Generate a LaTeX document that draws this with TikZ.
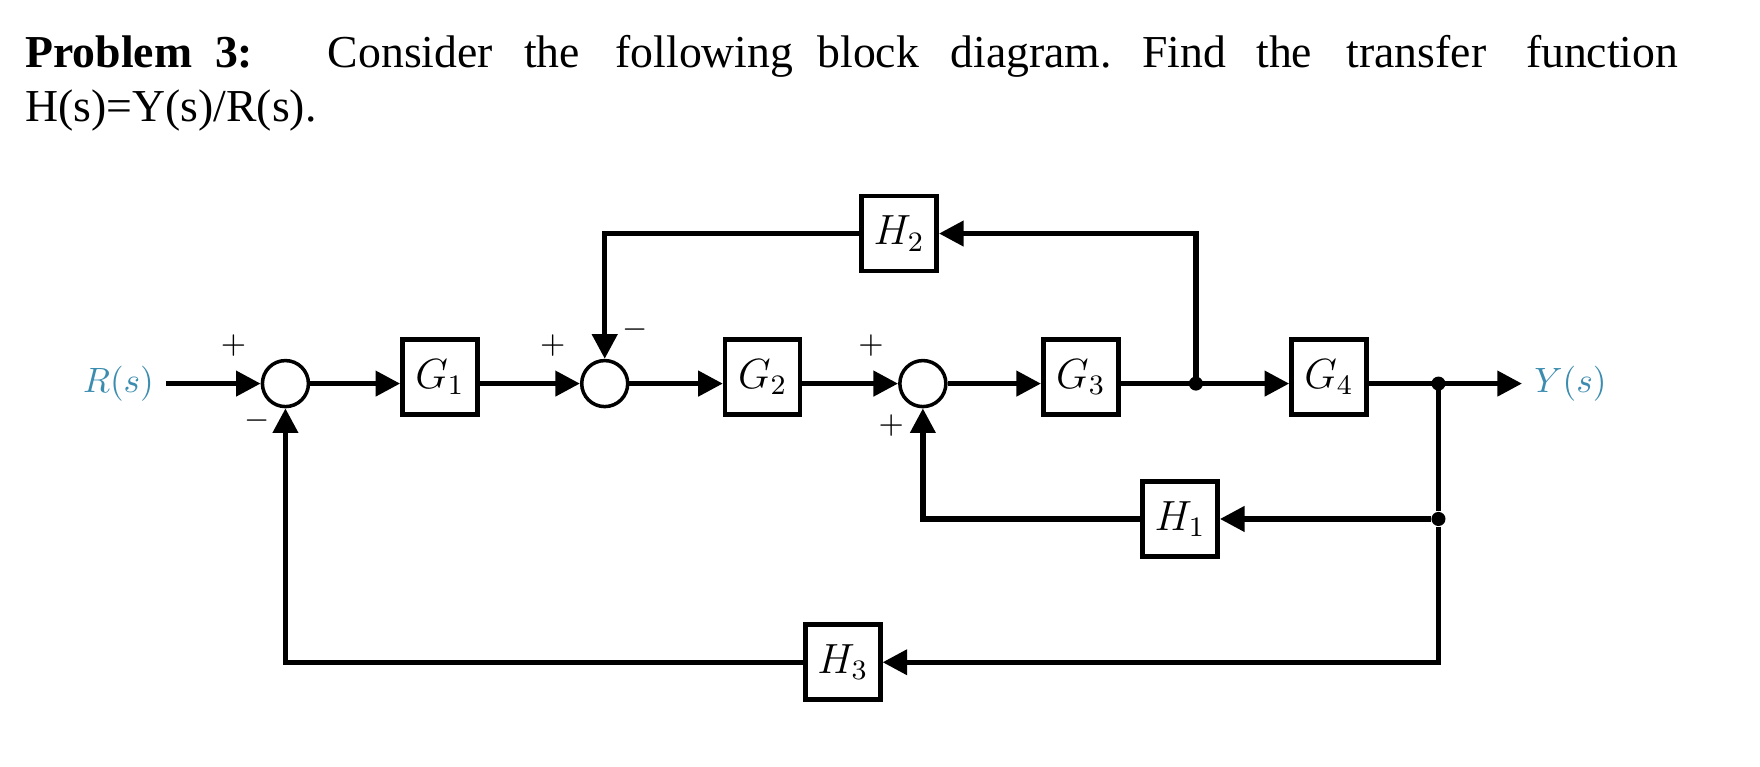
\documentclass[tikz,border=0pt]{standalone}
\usepackage{fontspec}
\setmainfont{Liberation Serif}
\usetikzlibrary{arrows.meta}
\definecolor{teal1}{RGB}{60,140,175}
\begin{document}
\begin{tikzpicture}[x=0.01128cm,y=-0.01128cm,
  blk/.style={draw,line width=1.3pt,minimum width=0.75cm,minimum height=0.75cm,inner sep=0pt,font=\large},
  sum/.style={draw,circle,line width=1pt,minimum size=0.46cm,inner sep=0pt},
  sig/.style={line width=1.5pt,-{Triangle[length=7pt,width=7pt]}},
  ln/.style={line width=1.5pt},
  dot/.style={circle,fill,inner sep=0pt,minimum size=4pt},
  lab/.style={font=\small},
  tt/.style={anchor=base west,font=\fontsize{13}{16}\selectfont,inner sep=0pt}]
\useasboundingbox (0,0) rectangle (1560,679);
% title
\node[tt] (t1) at (22,60) {\textbf{Problem\ \ 3:}};
\node[tt] (t2) at (290,60) {Consider};
\node[tt] (t3) at (464,60) {the};
\node[tt] (t4) at (545,60) {following};
\node[tt] (t5) at (724,60) {block};
\node[tt] (t6) at (842,60) {diagram.};
\node[tt] (t7) at (1012,60) {Find};
\node[tt] (t8) at (1113,60) {the};
\node[tt] (t9) at (1193,60) {transfer};
\node[tt] (t10) at (1352,60) {function};
\node[tt] (t11) at (22,108) {H(s)=Y(s)/R(s).};
% nodes
\node[text=teal1] (R) at (105,340) {$R(s)$};
\node[sum] (s1) at (253,340) {};
\node[blk] (G1) at (390,334) {$G_1$};
\node[sum] (s2) at (536,340) {};
\node[blk] (G2) at (676,334) {$G_2$};
\node[sum] (s3) at (818,340) {};
\node[blk] (G3) at (958,334) {$G_3$};
\coordinate (j1) at (1060,340);
\node[blk] (G4) at (1178,334) {$G_4$};
\coordinate (j2) at (1275,340);
\node[text=teal1] (Y) at (1392,340) {$Y(s)$};
\node[blk] (H2) at (797,207) {$H_2$};
\node[blk] (H1) at (1046,460) {$H_1$};
\node[blk] (H3) at (747,587) {$H_3$};
\node[dot] at (j1) {};
\node[dot] at (j2) {};
\node[dot] (j3) at (1275,460) {};
% forward
\draw[sig] (R) -- (s1);
\draw[sig] (s1) -- (G1.west|-s1);
\draw[sig] (G1.east|-s1) -- (s2);
\draw[sig] (s2) -- (G2.west|-s2);
\draw[sig] (G2.east|-s2) -- (s3);
\draw[sig] (s3) -- (G3.west|-s3);
\draw[ln] (G3.east|-s3) -- (j1);
\draw[sig] (j1) -- (G4.west|-j1);
\draw[ln] (G4.east|-j1) -- (j2);
\draw[sig] (j2) -- (Y);
% feedback
\draw[sig] (j1) |- (H2.east);
\draw[sig] (H2.west) -| (s2.north);
\draw[ln] (j2) -- (j3);
\draw[sig] (j3) -- (H1.east);
\draw[sig] (H1.west) -| (s3.south);
\draw[sig] (j3) |- (H3.east);
\draw[sig] (H3.west) -| (s1.south);
% signs
\node[lab] at (207,306) {$+$};
\node[lab] at (228,373) {$-$};
\node[lab] at (490,306) {$+$};
\node[lab] at (563,292) {$-$};
\node[lab] at (772,306) {$+$};
\node[lab] at (790,377) {$+$};
\end{tikzpicture}
\end{document}
